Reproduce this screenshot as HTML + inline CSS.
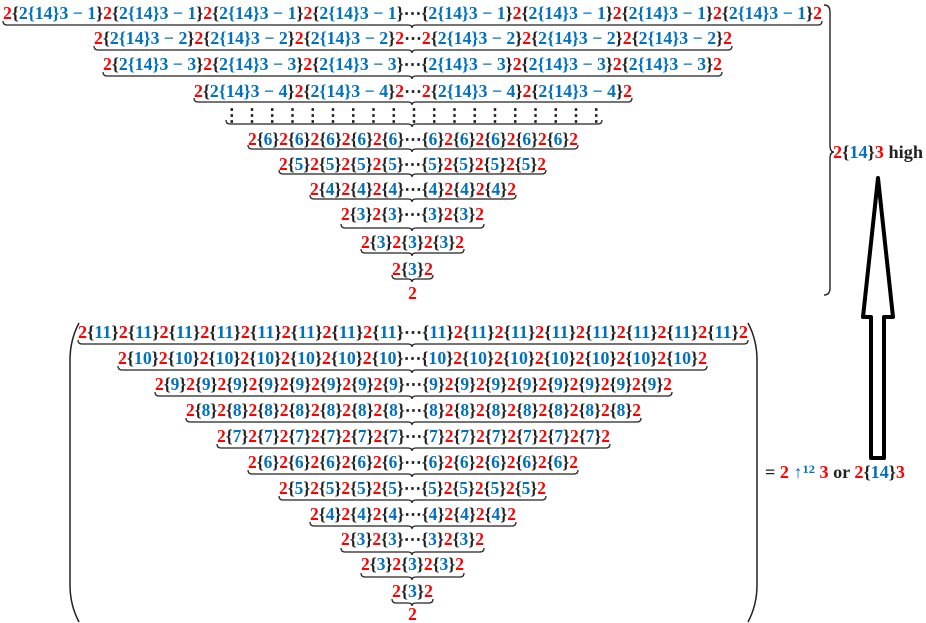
<!DOCTYPE html>
<html><head><meta charset="utf-8"><style>
html,body{margin:0;padding:0;background:#fff;}
svg{display:block;}
text{font-family:"Liberation Serif",serif;font-weight:bold;font-size:17.5px;fill:#222;}
.r{fill:#ff0000}.b{fill:#0070c0}
.u{fill:none;stroke:#222;stroke-width:1.3}
</style></head><body>
<svg width="926" height="623" viewBox="0 0 926 623" xmlns="http://www.w3.org/2000/svg">
<!-- TOP -->
<text x="3" y="19" textLength="819" lengthAdjust="spacingAndGlyphs"><tspan class="r">2</tspan>{<tspan class="b">2{14}3 − 1</tspan>}<tspan class="r">2</tspan>{<tspan class="b">2{14}3 − 1</tspan>}<tspan class="r">2</tspan>{<tspan class="b">2{14}3 − 1</tspan>}<tspan class="r">2</tspan>{<tspan class="b">2{14}3 − 1</tspan>}⋯{<tspan class="b">2{14}3 − 1</tspan>}<tspan class="r">2</tspan>{<tspan class="b">2{14}3 − 1</tspan>}<tspan class="r">2</tspan>{<tspan class="b">2{14}3 − 1</tspan>}<tspan class="r">2</tspan>{<tspan class="b">2{14}3 − 1</tspan>}<tspan class="r">2</tspan></text>
<text x="94" y="44" textLength="638" lengthAdjust="spacingAndGlyphs"><tspan class="r">2</tspan>{<tspan class="b">2{14}3 − 2</tspan>}<tspan class="r">2</tspan>{<tspan class="b">2{14}3 − 2</tspan>}<tspan class="r">2</tspan>{<tspan class="b">2{14}3 − 2</tspan>}<tspan class="r">2</tspan>⋯<tspan class="r">2</tspan>{<tspan class="b">2{14}3 − 2</tspan>}<tspan class="r">2</tspan>{<tspan class="b">2{14}3 − 2</tspan>}<tspan class="r">2</tspan>{<tspan class="b">2{14}3 − 2</tspan>}<tspan class="r">2</tspan></text>
<text x="103" y="70" textLength="619" lengthAdjust="spacingAndGlyphs"><tspan class="r">2</tspan>{<tspan class="b">2{14}3 − 3</tspan>}<tspan class="r">2</tspan>{<tspan class="b">2{14}3 − 3</tspan>}<tspan class="r">2</tspan>{<tspan class="b">2{14}3 − 3</tspan>}⋯{<tspan class="b">2{14}3 − 3</tspan>}<tspan class="r">2</tspan>{<tspan class="b">2{14}3 − 3</tspan>}<tspan class="r">2</tspan>{<tspan class="b">2{14}3 − 3</tspan>}<tspan class="r">2</tspan></text>
<text x="194" y="97" textLength="438" lengthAdjust="spacingAndGlyphs"><tspan class="r">2</tspan>{<tspan class="b">2{14}3 − 4</tspan>}<tspan class="r">2</tspan>{<tspan class="b">2{14}3 − 4</tspan>}<tspan class="r">2</tspan>⋯<tspan class="r">2</tspan>{<tspan class="b">2{14}3 − 4</tspan>}<tspan class="r">2</tspan>{<tspan class="b">2{14}3 − 4</tspan>}<tspan class="r">2</tspan></text>
<text x="223" y="121" textLength="382" lengthAdjust="spacing">⋮⋮⋮⋮⋮⋮⋮⋮⋮⋮⋮⋮⋮⋮⋮⋮⋮⋮⋮</text>
<text x="248" y="145" textLength="330" lengthAdjust="spacingAndGlyphs"><tspan class="r">2</tspan>{<tspan class="b">6</tspan>}<tspan class="r">2</tspan>{<tspan class="b">6</tspan>}<tspan class="r">2</tspan>{<tspan class="b">6</tspan>}<tspan class="r">2</tspan>{<tspan class="b">6</tspan>}<tspan class="r">2</tspan>{<tspan class="b">6</tspan>}⋯{<tspan class="b">6</tspan>}<tspan class="r">2</tspan>{<tspan class="b">6</tspan>}<tspan class="r">2</tspan>{<tspan class="b">6</tspan>}<tspan class="r">2</tspan>{<tspan class="b">6</tspan>}<tspan class="r">2</tspan>{<tspan class="b">6</tspan>}<tspan class="r">2</tspan></text>
<text x="279" y="170" textLength="267" lengthAdjust="spacingAndGlyphs"><tspan class="r">2</tspan>{<tspan class="b">5</tspan>}<tspan class="r">2</tspan>{<tspan class="b">5</tspan>}<tspan class="r">2</tspan>{<tspan class="b">5</tspan>}<tspan class="r">2</tspan>{<tspan class="b">5</tspan>}⋯{<tspan class="b">5</tspan>}<tspan class="r">2</tspan>{<tspan class="b">5</tspan>}<tspan class="r">2</tspan>{<tspan class="b">5</tspan>}<tspan class="r">2</tspan>{<tspan class="b">5</tspan>}<tspan class="r">2</tspan></text>
<text x="310" y="195" textLength="206" lengthAdjust="spacingAndGlyphs"><tspan class="r">2</tspan>{<tspan class="b">4</tspan>}<tspan class="r">2</tspan>{<tspan class="b">4</tspan>}<tspan class="r">2</tspan>{<tspan class="b">4</tspan>}⋯{<tspan class="b">4</tspan>}<tspan class="r">2</tspan>{<tspan class="b">4</tspan>}<tspan class="r">2</tspan>{<tspan class="b">4</tspan>}<tspan class="r">2</tspan></text>
<text x="341" y="220" textLength="143" lengthAdjust="spacingAndGlyphs"><tspan class="r">2</tspan>{<tspan class="b">3</tspan>}<tspan class="r">2</tspan>{<tspan class="b">3</tspan>}⋯{<tspan class="b">3</tspan>}<tspan class="r">2</tspan>{<tspan class="b">3</tspan>}<tspan class="r">2</tspan></text>
<text x="361" y="248" textLength="103" lengthAdjust="spacingAndGlyphs"><tspan class="r">2</tspan>{<tspan class="b">3</tspan>}<tspan class="r">2</tspan>{<tspan class="b">3</tspan>}<tspan class="r">2</tspan>{<tspan class="b">3</tspan>}<tspan class="r">2</tspan></text>
<text x="392" y="275" textLength="41" lengthAdjust="spacingAndGlyphs"><tspan class="r">2</tspan>{<tspan class="b">3</tspan>}<tspan class="r">2</tspan></text>
<text x="412.5" y="299" text-anchor="middle" class="r">2</text>
<g class="u">
<path d="M3,21 Q3,25 7,25 L408,25 Q412,25 412,28 Q412,25 416,25 L818,25 Q822,25 822,21"/>
<path d="M94,46 Q94,50 98,50 L408,50 Q412,50 412,53 Q412,50 416,50 L728,50 Q732,50 732,46"/>
<path d="M103,72 Q103,76 107,76 L408,76 Q412,76 412,79 Q412,76 416,76 L718,76 Q722,76 722,72"/>
<path d="M194,98 Q194,102 198,102 L408,102 Q412,102 412,105 Q412,102 416,102 L628,102 Q632,102 632,98"/>
<path d="M226,120 Q226,124 230,124 L408,124 Q412,124 412,127 Q412,124 416,124 L598,124 Q602,124 602,120"/>
<path d="M248,145 Q248,149 252,149 L408,149 Q412,149 412,152 Q412,149 416,149 L574,149 Q578,149 578,145"/>
<path d="M279,170 Q279,174 283,174 L408,174 Q412,174 412,177 Q412,174 416,174 L542,174 Q546,174 546,170"/>
<path d="M310,195 Q310,199 314,199 L408,199 Q412,199 412,202 Q412,199 416,199 L512,199 Q516,199 516,195"/>
<path d="M341,224 Q341,228 345,228 L408,228 Q412,228 412,231 Q412,228 416,228 L480,228 Q484,228 484,224"/>
<path d="M361,249 Q361,253 365,253 L408,253 Q412,253 412,256 Q412,253 416,253 L460,253 Q464,253 464,249"/>
<path d="M392,275 Q392,279 396,279 L408,279 Q412,279 412,282 Q412,279 416,279 L429,279 Q433,279 433,275"/>
</g>
<path d="M824,5 Q830,5 830,12 L830,145 Q830,152 834,152 Q830,152 830,159 L830,288 Q830,295 824,295" fill="none" stroke="#222" stroke-width="1.4"/>
<text x="833" y="158" textLength="90" lengthAdjust="spacingAndGlyphs"><tspan class="r">2</tspan>{<tspan class="b">14</tspan>}<tspan class="r">3</tspan> high</text>

<!-- BOTTOM -->
<text x="78" y="338" textLength="670" lengthAdjust="spacingAndGlyphs"><tspan class="r">2</tspan>{<tspan class="b">11</tspan>}<tspan class="r">2</tspan>{<tspan class="b">11</tspan>}<tspan class="r">2</tspan>{<tspan class="b">11</tspan>}<tspan class="r">2</tspan>{<tspan class="b">11</tspan>}<tspan class="r">2</tspan>{<tspan class="b">11</tspan>}<tspan class="r">2</tspan>{<tspan class="b">11</tspan>}<tspan class="r">2</tspan>{<tspan class="b">11</tspan>}<tspan class="r">2</tspan>{<tspan class="b">11</tspan>}⋯{<tspan class="b">11</tspan>}<tspan class="r">2</tspan>{<tspan class="b">11</tspan>}<tspan class="r">2</tspan>{<tspan class="b">11</tspan>}<tspan class="r">2</tspan>{<tspan class="b">11</tspan>}<tspan class="r">2</tspan>{<tspan class="b">11</tspan>}<tspan class="r">2</tspan>{<tspan class="b">11</tspan>}<tspan class="r">2</tspan>{<tspan class="b">11</tspan>}<tspan class="r">2</tspan>{<tspan class="b">11</tspan>}<tspan class="r">2</tspan></text>
<text x="118" y="364" textLength="589" lengthAdjust="spacingAndGlyphs"><tspan class="r">2</tspan>{<tspan class="b">10</tspan>}<tspan class="r">2</tspan>{<tspan class="b">10</tspan>}<tspan class="r">2</tspan>{<tspan class="b">10</tspan>}<tspan class="r">2</tspan>{<tspan class="b">10</tspan>}<tspan class="r">2</tspan>{<tspan class="b">10</tspan>}<tspan class="r">2</tspan>{<tspan class="b">10</tspan>}<tspan class="r">2</tspan>{<tspan class="b">10</tspan>}⋯{<tspan class="b">10</tspan>}<tspan class="r">2</tspan>{<tspan class="b">10</tspan>}<tspan class="r">2</tspan>{<tspan class="b">10</tspan>}<tspan class="r">2</tspan>{<tspan class="b">10</tspan>}<tspan class="r">2</tspan>{<tspan class="b">10</tspan>}<tspan class="r">2</tspan>{<tspan class="b">10</tspan>}<tspan class="r">2</tspan>{<tspan class="b">10</tspan>}<tspan class="r">2</tspan></text>
<text x="155" y="390" textLength="517" lengthAdjust="spacingAndGlyphs"><tspan class="r">2</tspan>{<tspan class="b">9</tspan>}<tspan class="r">2</tspan>{<tspan class="b">9</tspan>}<tspan class="r">2</tspan>{<tspan class="b">9</tspan>}<tspan class="r">2</tspan>{<tspan class="b">9</tspan>}<tspan class="r">2</tspan>{<tspan class="b">9</tspan>}<tspan class="r">2</tspan>{<tspan class="b">9</tspan>}<tspan class="r">2</tspan>{<tspan class="b">9</tspan>}<tspan class="r">2</tspan>{<tspan class="b">9</tspan>}⋯{<tspan class="b">9</tspan>}<tspan class="r">2</tspan>{<tspan class="b">9</tspan>}<tspan class="r">2</tspan>{<tspan class="b">9</tspan>}<tspan class="r">2</tspan>{<tspan class="b">9</tspan>}<tspan class="r">2</tspan>{<tspan class="b">9</tspan>}<tspan class="r">2</tspan>{<tspan class="b">9</tspan>}<tspan class="r">2</tspan>{<tspan class="b">9</tspan>}<tspan class="r">2</tspan>{<tspan class="b">9</tspan>}<tspan class="r">2</tspan></text>
<text x="186" y="416" textLength="455" lengthAdjust="spacingAndGlyphs"><tspan class="r">2</tspan>{<tspan class="b">8</tspan>}<tspan class="r">2</tspan>{<tspan class="b">8</tspan>}<tspan class="r">2</tspan>{<tspan class="b">8</tspan>}<tspan class="r">2</tspan>{<tspan class="b">8</tspan>}<tspan class="r">2</tspan>{<tspan class="b">8</tspan>}<tspan class="r">2</tspan>{<tspan class="b">8</tspan>}<tspan class="r">2</tspan>{<tspan class="b">8</tspan>}⋯{<tspan class="b">8</tspan>}<tspan class="r">2</tspan>{<tspan class="b">8</tspan>}<tspan class="r">2</tspan>{<tspan class="b">8</tspan>}<tspan class="r">2</tspan>{<tspan class="b">8</tspan>}<tspan class="r">2</tspan>{<tspan class="b">8</tspan>}<tspan class="r">2</tspan>{<tspan class="b">8</tspan>}<tspan class="r">2</tspan>{<tspan class="b">8</tspan>}<tspan class="r">2</tspan></text>
<text x="217" y="442" textLength="393" lengthAdjust="spacingAndGlyphs"><tspan class="r">2</tspan>{<tspan class="b">7</tspan>}<tspan class="r">2</tspan>{<tspan class="b">7</tspan>}<tspan class="r">2</tspan>{<tspan class="b">7</tspan>}<tspan class="r">2</tspan>{<tspan class="b">7</tspan>}<tspan class="r">2</tspan>{<tspan class="b">7</tspan>}<tspan class="r">2</tspan>{<tspan class="b">7</tspan>}⋯{<tspan class="b">7</tspan>}<tspan class="r">2</tspan>{<tspan class="b">7</tspan>}<tspan class="r">2</tspan>{<tspan class="b">7</tspan>}<tspan class="r">2</tspan>{<tspan class="b">7</tspan>}<tspan class="r">2</tspan>{<tspan class="b">7</tspan>}<tspan class="r">2</tspan>{<tspan class="b">7</tspan>}<tspan class="r">2</tspan></text>
<text x="248" y="468" textLength="330" lengthAdjust="spacingAndGlyphs"><tspan class="r">2</tspan>{<tspan class="b">6</tspan>}<tspan class="r">2</tspan>{<tspan class="b">6</tspan>}<tspan class="r">2</tspan>{<tspan class="b">6</tspan>}<tspan class="r">2</tspan>{<tspan class="b">6</tspan>}<tspan class="r">2</tspan>{<tspan class="b">6</tspan>}⋯{<tspan class="b">6</tspan>}<tspan class="r">2</tspan>{<tspan class="b">6</tspan>}<tspan class="r">2</tspan>{<tspan class="b">6</tspan>}<tspan class="r">2</tspan>{<tspan class="b">6</tspan>}<tspan class="r">2</tspan>{<tspan class="b">6</tspan>}<tspan class="r">2</tspan></text>
<text x="279" y="494" textLength="267" lengthAdjust="spacingAndGlyphs"><tspan class="r">2</tspan>{<tspan class="b">5</tspan>}<tspan class="r">2</tspan>{<tspan class="b">5</tspan>}<tspan class="r">2</tspan>{<tspan class="b">5</tspan>}<tspan class="r">2</tspan>{<tspan class="b">5</tspan>}⋯{<tspan class="b">5</tspan>}<tspan class="r">2</tspan>{<tspan class="b">5</tspan>}<tspan class="r">2</tspan>{<tspan class="b">5</tspan>}<tspan class="r">2</tspan>{<tspan class="b">5</tspan>}<tspan class="r">2</tspan></text>
<text x="310" y="520" textLength="206" lengthAdjust="spacingAndGlyphs"><tspan class="r">2</tspan>{<tspan class="b">4</tspan>}<tspan class="r">2</tspan>{<tspan class="b">4</tspan>}<tspan class="r">2</tspan>{<tspan class="b">4</tspan>}⋯{<tspan class="b">4</tspan>}<tspan class="r">2</tspan>{<tspan class="b">4</tspan>}<tspan class="r">2</tspan>{<tspan class="b">4</tspan>}<tspan class="r">2</tspan></text>
<text x="341" y="545" textLength="143" lengthAdjust="spacingAndGlyphs"><tspan class="r">2</tspan>{<tspan class="b">3</tspan>}<tspan class="r">2</tspan>{<tspan class="b">3</tspan>}⋯{<tspan class="b">3</tspan>}<tspan class="r">2</tspan>{<tspan class="b">3</tspan>}<tspan class="r">2</tspan></text>
<text x="361" y="570" textLength="103" lengthAdjust="spacingAndGlyphs"><tspan class="r">2</tspan>{<tspan class="b">3</tspan>}<tspan class="r">2</tspan>{<tspan class="b">3</tspan>}<tspan class="r">2</tspan>{<tspan class="b">3</tspan>}<tspan class="r">2</tspan></text>
<text x="392" y="597" textLength="41" lengthAdjust="spacingAndGlyphs"><tspan class="r">2</tspan>{<tspan class="b">3</tspan>}<tspan class="r">2</tspan></text>
<text x="412.5" y="620" text-anchor="middle" class="r">2</text>
<g class="u">
<path d="M78,340 Q78,344 82,344 L408,344 Q412,344 412,347 Q412,344 416,344 L744,344 Q748,344 748,340"/>
<path d="M118,366 Q118,370 122,370 L408,370 Q412,370 412,373 Q412,370 416,370 L703,370 Q707,370 707,366"/>
<path d="M155,392 Q155,396 159,396 L408,396 Q412,396 412,399 Q412,396 416,396 L668,396 Q672,396 672,392"/>
<path d="M186,418 Q186,422 190,422 L408,422 Q412,422 412,425 Q412,422 416,422 L637,422 Q641,422 641,418"/>
<path d="M217,444 Q217,448 221,448 L408,448 Q412,448 412,451 Q412,448 416,448 L606,448 Q610,448 610,444"/>
<path d="M248,470 Q248,474 252,474 L408,474 Q412,474 412,477 Q412,474 416,474 L574,474 Q578,474 578,470"/>
<path d="M279,496 Q279,500 283,500 L408,500 Q412,500 412,503 Q412,500 416,500 L542,500 Q546,500 546,496"/>
<path d="M310,522 Q310,526 314,526 L408,526 Q412,526 412,529 Q412,526 416,526 L512,526 Q516,526 516,522"/>
<path d="M341,548 Q341,552 345,552 L408,552 Q412,552 412,555 Q412,552 416,552 L480,552 Q484,552 484,548"/>
<path d="M361,573 Q361,577 365,577 L408,577 Q412,577 412,580 Q412,577 416,577 L460,577 Q464,577 464,573"/>
<path d="M392,599 Q392,603 396,603 L408,603 Q412,603 412,606 Q412,603 416,603 L429,603 Q433,603 433,599"/>
</g>
<path d="M79,323 Q70,340 70,360 L70,585 Q70,605 79,622" fill="none" stroke="#222" stroke-width="1.5"/>
<path d="M748,323 Q757,340 757,360 L757,585 Q757,605 748,622" fill="none" stroke="#222" stroke-width="1.5"/>
<text x="765" y="478" textLength="140" lengthAdjust="spacingAndGlyphs">= <tspan class="r">2</tspan> <tspan class="b">↑</tspan><tspan class="b" font-size="12" dy="-5">12</tspan><tspan dy="5"> </tspan><tspan class="r">3</tspan> or <tspan class="r">2</tspan>{<tspan class="b">14</tspan>}<tspan class="r">3</tspan></text>

<!-- arrow -->
<path d="M878,178 L893,317 L884,317 L884,458 L871,458 L871,317 L863,317 Z" fill="#fff" stroke="#000" stroke-width="4" stroke-linejoin="round"/>
</svg>
</body></html>
